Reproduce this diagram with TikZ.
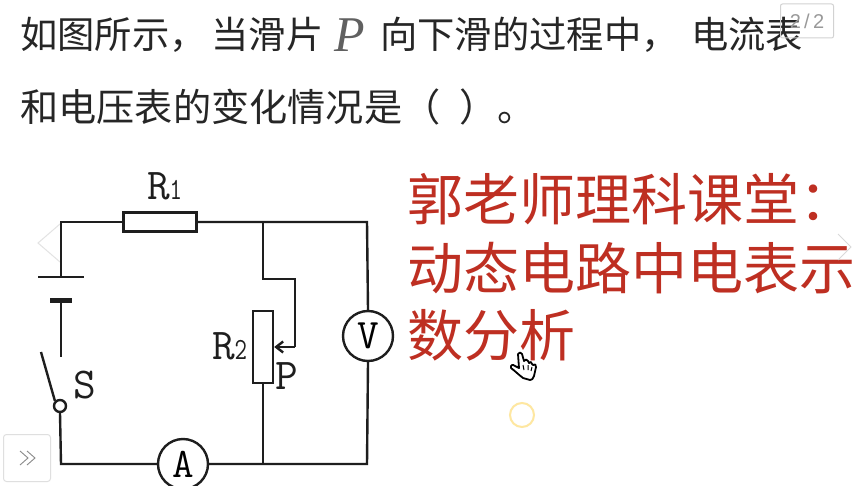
\documentclass[tikz,border=0pt]{standalone}
\usepackage{fontspec}
\setmainfont{Liberation Serif}
\newfontfamily\cjk{Noto Sans CJK SC}
\newfontfamily\uisans{Liberation Sans}
\usetikzlibrary{arrows.meta}
\definecolor{inkc}{HTML}{262626}
\definecolor{redc}{HTML}{BE2F22}
\definecolor{wirec}{HTML}{1E1E1E}
\tikzset{
  wire/.style={draw=wirec,line width=2.4pt},
  comp/.style={draw=wirec,line width=2.4pt,fill=white,rectangle,inner sep=0pt},
  meter/.style={draw=wirec,line width=2.4pt,fill=white,circle,minimum size=50pt,inner sep=0pt,font=\ttfamily\fontsize{42}{42}\selectfont},
  lbl/.style={inner sep=0pt,text=wirec,font=\ttfamily\fontsize{44}{44}\selectfont},
  ques/.style={inner sep=0pt,anchor=base west,text=inkc,font=\cjk\fontsize{37.3}{37.3}\selectfont},
  title/.style={inner sep=0pt,anchor=base west,text=redc,font=\cjk\fontsize{56}{56}\selectfont},
}
\newcommand{\smalldigit}[1]{\hspace{-1pt}\scalebox{.55}[.7]{#1}}
\begin{document}
\begin{tikzpicture}[x=1pt,y=-1pt]
\useasboundingbox[fill=white] (0,0) rectangle (864,486);
% question text
\node[ques] (q1) at (20,49) {如图所示，\hspace{5pt}当滑片};
\node[inner sep=0pt,anchor=base,text=gray!75!black,font=\itshape\fontsize{50}{50}\selectfont] (qp) at (350,52) {P};
\node[ques] (q2) at (380,49) {向下滑的过程中，};
\node[ques] (q3) at (691,49) {电流表};
\node[ques,font=\cjk\fontsize{38.2}{38.2}\selectfont] (q4) at (20,122) {和电压表的变化情况是（\hspace{0.5em}）。};
% page badge
\node[draw=gray!35,line width=1pt,rounded corners=2pt,minimum width=53pt,minimum height=34pt,inner sep=0pt,text=gray!80,font=\uisans\fontsize{20}{20}\selectfont] (badge) at (807,21) {2\,/\,2};
% red title
\node[title] (t1) at (407,221) {郭老师理科课堂：};
\node[title] (t2) at (407,289) {动态电路中电表示};
\node[title] (t3) at (407,356) {数分析};
% side chevrons
\coordinate (cl1) at (60,224);
\coordinate (cl2) at (38,243);
\coordinate (cl3) at (60,262);
\draw[gray!22,line width=1pt] (cl1) -- (cl2) -- (cl3);
\coordinate (cr1) at (838,234);
\coordinate (cr2) at (851,247);
\coordinate (cr3) at (838,260);
\draw[gray!30,line width=1pt] (cr1) -- (cr2) -- (cr3);
% circuit points
\coordinate (tl) at (61,222);
\coordinate (tj) at (263,222);
\coordinate (tr) at (367,222);
\coordinate (bl) at (61,464);
\coordinate (bj) at (263,464);
\coordinate (br) at (367,464);
\coordinate (p1) at (263,279);
\coordinate (p2) at (295,279);
\coordinate (p3) at (295,347);
\coordinate (batl) at (61,277);
\coordinate (batsh) at (61,300);
\coordinate (bats) at (61,357);
\coordinate (swfree) at (41,352);
% components
\node[comp,minimum width=73pt,minimum height=19pt] (R1) at (160,222) {};
\node[comp,minimum width=20pt,minimum height=72pt] (R2) at (263,347) {};
\node[meter] (V) at (368,336) {V};
\node[meter] (A) at (183,464) {A};
\node[draw=wirec,line width=2.4pt,fill=white,circle,minimum size=12pt,inner sep=0pt] (SW) at (60,406) {};
% wires
\draw[wire] (batl) -- (tl) -- (R1.west);
\draw[wire] (R1.east) -- (tr) -- (V.north);
\draw[wire] (tj) -- (p1) -- (p2) -- (p3);
\draw[wire,-{Straight Barb[length=7pt,width=11pt]}] (p3) -- (R2.east |- p3);
\draw[wire] (V.south) -- (br) -- (A.east);
\draw[wire] (A.west) -- (bl) -- (SW.south);
\draw[wire] (R2.south) -- (bj);
\draw[wire] (SW.north west) -- (swfree);
\draw[wire] (batsh) -- (bats);
% battery plates
\node[fill=wirec,minimum width=46pt,minimum height=2.2pt,inner sep=0pt] (plateL) at (61,277) {};
\node[fill=wirec,minimum width=22pt,minimum height=5pt,inner sep=0pt] (plateS) at (61,300) {};
% labels
\node[lbl] (lR1) at (165,186) {R\smalldigit{1}};
\node[lbl] (lR2) at (230,346) {R\smalldigit{2}};
\node[lbl] (lS) at (85,385) {S};
\node[lbl] (lP) at (287,376) {P};
% expand button
\node[draw=gray!25,fill=white,line width=1pt,rounded corners=3pt,minimum width=47pt,minimum height=47pt,inner sep=0pt] (btn) at (27,458) {};
\coordinate (c1a) at (20,451);
\coordinate (c1b) at (28,458);
\coordinate (c1c) at (20,465);
\coordinate (c2a) at (27,451);
\coordinate (c2b) at (35,458);
\coordinate (c2c) at (27,465);
\draw[gray!90,line width=.9pt] (c1a) -- (c1b) -- (c1c);
\draw[gray!90,line width=.9pt] (c2a) -- (c2b) -- (c2c);
% pale ring
\node[draw=yellow!55!orange!35,line width=2pt,fill=white,circle,minimum size=24pt,inner sep=0pt] (ring) at (522,415) {};
% hand cursor
\draw[fill=white,draw=black,line width=1.8pt,line join=round]
  (518,354) .. controls (519,352) and (521,352) .. (522,354)
  -- (524,361) .. controls (525,359) and (527,359) .. (528,361)
  -- (529,363) .. controls (530,361) and (532,362) .. (532,364)
  -- (533,365) .. controls (535,363) and (536,365) .. (536,367)
  -- (534,376) .. controls (533,379) and (532,380) .. (530,380)
  -- (523,378) .. controls (519,375) and (515,371) .. (511,368)
  .. controls (510,365) and (513,364) .. (515,366)
  -- (519,368) -- cycle;
\draw[black,line width=1pt] (523,365) -- (524,370) (528,365) -- (528,370) (532,367) -- (531,371);
\end{tikzpicture}
\end{document}
